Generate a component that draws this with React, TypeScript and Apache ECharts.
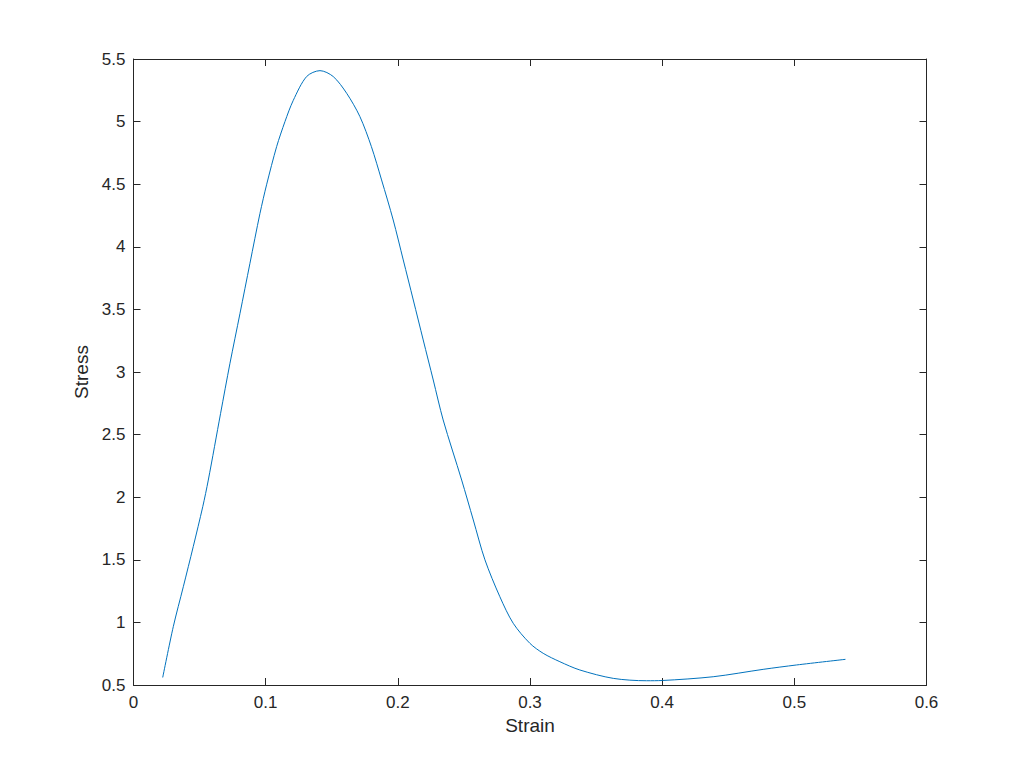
import React, { useEffect, useRef } from "react";
import * as echarts from "echarts";

const strain = [0.0221, 0.0301, 0.0377, 0.0452, 0.0524, 0.0566, 0.0659, 0.073, 0.0806, 0.0881, 0.0957, 0.1008, 0.1083, 0.1146, 0.1209, 0.131, 0.1411, 0.1511, 0.1613, 0.1713, 0.18, 0.1877, 0.1965, 0.2041, 0.2117, 0.2192, 0.2268, 0.2343, 0.2483, 0.2571, 0.2659, 0.2772, 0.2873, 0.2999, 0.31, 0.3226, 0.3377, 0.363, 0.3882, 0.4003, 0.4386, 0.4764, 0.5017, 0.5387];
const stress = [0.56, 0.966, 1.285, 1.605, 1.924, 2.137, 2.67, 3.07, 3.469, 3.868, 4.267, 4.5, 4.8, 5.0, 5.17, 5.36, 5.407, 5.36, 5.226, 5.04, 4.8, 4.534, 4.214, 3.895, 3.575, 3.256, 2.936, 2.617, 2.137, 1.818, 1.5, 1.205, 0.993, 0.833, 0.753, 0.686, 0.62, 0.553, 0.534, 0.536, 0.566, 0.625, 0.66, 0.705];

const xTitle = "Strain";
const yTitle = "Stress";

const FONT = "'Liberation Sans', Arial, Helvetica, sans-serif";
const AXIS_COLOR = "#262626";

export default function App() {
  const ref = useRef<HTMLDivElement>(null);
  useEffect(() => {
    if (!ref.current) return;
    const chart = echarts.init(ref.current, undefined, { renderer: "svg" });
    const axisCommon = {
      axisLine: { show: true, onZero: false, lineStyle: { color: AXIS_COLOR, width: 1 } },
      axisTick: { show: true, inside: true, length: 7, lineStyle: { color: AXIS_COLOR, width: 1 } },
      splitLine: { show: false },
    };
    chart.setOption({
      animation: false,
      backgroundColor: "#ffffff",
      textStyle: { fontFamily: FONT },
      grid: { left: 133.5, right: 97.5, top: 59, bottom: 83, containLabel: false },
      xAxis: [
        {
          type: "value",
          position: "bottom",
          min: 0,
          max: 0.6,
          interval: 0.1,
          ...axisCommon,
          axisLabel: { color: AXIS_COLOR, fontSize: 17, margin: 9, fontFamily: FONT },
          name: xTitle,
          nameLocation: "middle",
          nameGap: 31,
          nameTextStyle: { color: AXIS_COLOR, fontSize: 19, fontFamily: FONT },
        },
        {
          type: "value",
          position: "top",
          min: 0,
          max: 0.6,
          interval: 0.1,
          ...axisCommon,
          axisLabel: { show: false },
        },
      ],
      yAxis: [
        {
          type: "value",
          position: "left",
          min: 0.5,
          max: 5.5,
          interval: 0.5,
          ...axisCommon,
          axisLabel: { color: AXIS_COLOR, fontSize: 17, margin: 8, fontFamily: FONT },
          name: yTitle,
          nameLocation: "middle",
          nameGap: 40,
          nameTextStyle: { color: AXIS_COLOR, fontSize: 19, fontFamily: FONT },
        },
        {
          type: "value",
          position: "right",
          min: 0.5,
          max: 5.5,
          interval: 0.5,
          ...axisCommon,
          axisLabel: { show: false },
        },
      ],
      series: [
        {
          type: "line",
          xAxisIndex: 0,
          yAxisIndex: 0,
          data: strain.map((x, i) => [x, stress[i]]),
          showSymbol: false,
          smooth: 0.3,
          lineStyle: { color: "#0072BD", width: 1 },
          itemStyle: { color: "#0072BD" },
        },
      ],
    });
    return () => chart.dispose();
  }, []);
  return (
    <div
      ref={ref}
      style={{ position: "fixed", left: 0, top: 0, width: 1024, height: 768, background: "#fff" }}
    />
  );
}
